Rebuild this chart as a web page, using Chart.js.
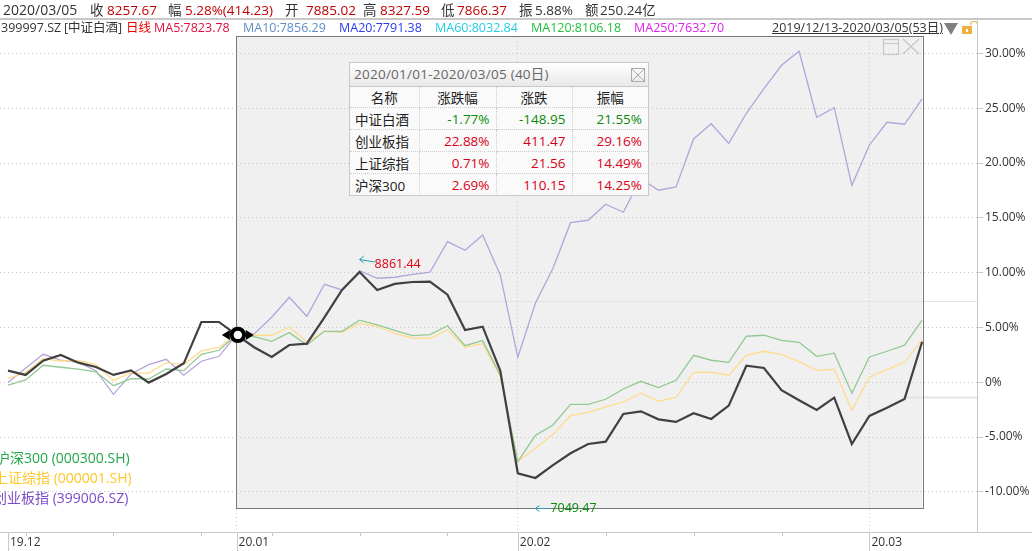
<!DOCTYPE html>
<html>
<head>
<meta charset="utf-8">
<style>
html,body{margin:0;padding:0;background:#fff;overflow:hidden}
#wrap{position:relative;width:1032px;height:551px;overflow:hidden;font-family:"Open Sans","Noto Sans CJK SC",sans-serif;font-size:13.5px}
canvas{position:absolute;left:0;top:0}
.t{position:absolute;white-space:nowrap;line-height:16px}
#panel{position:absolute;left:349px;top:62px;width:300px;height:134px;border:1px solid #c8c8c8;background:#fafafa;box-sizing:border-box}
#panel .head{height:24px;background:linear-gradient(#fff,#e8e8e8);border-bottom:1px solid #c8c8c8;color:#666;line-height:23px;padding-left:4px;box-sizing:border-box;letter-spacing:.25px}
#panel .close{position:absolute;left:281px;top:5px;width:12px;height:12px;border:1px solid #aaa;background:linear-gradient(45deg,transparent 47%,#aaa 47%,#aaa 53%,transparent 53%),linear-gradient(-45deg,transparent 47%,#aaa 47%,#aaa 53%,transparent 53%)}
#panel table{border-collapse:collapse;width:298px;table-layout:fixed}
#panel td{height:22px;padding:0 6px 0 0;border-bottom:1px dotted #ccc;border-right:1px dotted #ccc;text-align:right;box-sizing:border-box;white-space:nowrap}
#panel td:first-child{text-align:left;padding-left:5px;color:#222}
#panel tr:nth-of-type(1) td{text-align:center;color:#222;height:20px;padding:0}
#panel td:last-child{border-right:none}
#panel tr:last-child td{border-bottom:none}
</style>
</head>
<body>
<div id="wrap">
<canvas id="chart" width="1032" height="551"></canvas>
<div id="header"></div>
<div id="panel"><div class="head">2020/01/01-2020/03/05 (40日)<div class="close"></div></div><table id="tbl"><colgroup><col style="width:69px"><col style="width:77px"><col style="width:76px"><col style="width:76px"></colgroup></table></div>
</div>
<script src="https://cdn.jsdelivr.net/npm/chart.js@4"></script>
<script>
// values, % change per trading day (index 0 = 2019/12/13)
var baijiu = [1.06,0.67,1.97,2.49,1.79,1.40,0.67,1.09,-0.03,0.76,1.73,5.50,5.50,4.32,3.20,2.31,3.40,3.52,5.93,8.42,10.06,8.42,8.97,9.15,9.18,7.99,4.77,5.07,1.06,-8.30,-8.73,-7.55,-6.48,-5.63,-5.42,-2.89,-2.65,-3.38,-3.62,-2.83,-3.35,-2.13,1.51,1.30,-0.73,-1.64,-2.53,-1.40,-5.63,-3.07,-2.32,-1.52,3.70];
var hs300 = [-0.27,0.21,1.55,1.37,1.19,0.94,-0.31,0.33,0.30,1.21,1.06,2.55,2.92,4.32,4.16,3.74,4.53,3.40,4.65,4.65,5.66,5.23,4.74,4.25,4.34,5.16,3.34,3.80,0.67,-7.24,-4.84,-3.90,-2.01,-2.01,-1.55,-0.61,0.09,-0.49,0.18,2.46,2.01,1.82,4.20,4.29,3.83,3.65,2.37,2.65,-1.00,2.31,2.83,3.38,5.68];
var shcomp = [0.36,0.88,2.15,1.94,1.97,1.64,0.15,0.88,0.82,1.79,1.61,2.86,3.19,4.32,4.29,4.29,5.02,3.70,4.65,4.56,5.38,5.11,4.47,4.04,4.01,4.77,3.19,3.52,0.51,-7.24,-6.02,-4.75,-3.05,-2.74,-2.25,-1.80,-1.00,-1.73,-1.37,0.91,0.91,0.64,2.46,2.83,2.55,1.88,1.09,1.19,-2.55,0.46,1.15,1.82,3.86];
var chinext = [-0.03,1.28,2.55,2.03,1.82,1.06,-1.10,0.76,1.61,2.10,0.64,1.92,2.37,4.32,4.41,5.93,7.75,6.02,8.94,8.42,10.18,9.49,9.58,9.85,10.04,12.83,12.04,13.44,9.79,2.28,7.21,10.40,14.56,14.78,16.24,15.51,18.60,17.52,17.82,22.20,23.59,21.80,24.54,26.79,28.92,30.20,24.18,25.05,17.97,21.65,23.72,23.54,25.85];
var yTicks = [30,25,20,15,10,5,0,-5,-10];
var monthIdx = [0,13,29,49];
var monthLabels = ['19.12','20.01','20.02','20.03'];
var minorIdx = [1,6,11,15,20,25,34,39,44];
var legendRows = [
 ['沪深300 (000300.SH)',-4,450,'#22a84a'],
 ['上证综指 (000001.SH)',-6,470,'#ffc82c'],
 ['创业板指 (399006.SZ)',-7,490,'#7d4cc8']
];
var headerItems = [
 ['2020/03/05',3,2,'#333',14],['收',90,2,'#333'],['8257.67',107,2,'#c00000'],['幅',168,2,'#333'],['5.28%(414.23)',185,2,'#c00000'],
 ['开',285,2,'#333'],['7885.02',306,2,'#c00000'],['高',363,2,'#333'],['8327.59',380,2,'#c00000'],['低',441,2,'#333'],['7866.37',457,2,'#c00000'],
 ['振',519,2,'#333'],['5.88%',535,2,'#333'],['额',585,2,'#333'],['250.24亿',600,2,'#333'],
 ['399997.SZ',1,20,'#333',12.5],['[中证白酒]',64,20,'#333',12.5],['日线',126,20,'#e00',12.5],['MA5:7823.78',154,20,'#e0103c',12.5],
 ['MA10:7856.29',243,20,'#5b8fc8',12.5],['MA20:7791.38',339,20,'#2a3cf0',12.5],['MA60:8032.84',435,20,'#22cfe6',12.5],['MA120:8106.18',531,20,'#22c040',12.5],['MA250:7632.70',634,20,'#e020f0',12.5]
];
var tableRows = [
 ['名称','涨跌幅','涨跌','振幅'],
 ['中证白酒','-1.77%','-148.95','21.55%'],
 ['创业板指','22.88%','411.47','29.16%'],
 ['上证综指','0.71%','21.56','14.49%'],
 ['沪深300','2.69%','110.15','14.25%']
];
var hiLabel = '8861.44', hiIdx = 20;
var loLabel = '7049.47', loIdx = 30;

var header = document.getElementById('header');
headerItems.concat(legendRows.map(function(r){return [r[0],r[1],r[2],r[3],14];})).forEach(function(h){
  var d = document.createElement('div');
  d.className = 't';
  d.textContent = h[0];
  d.style.left = h[1]+'px'; d.style.top = h[2]+'px'; d.style.color = h[3];
  if(h[4]) d.style.fontSize = h[4]+'px';
  header.appendChild(d);
});
var range = document.createElement('div');
range.className = 't';
range.textContent = '2019/12/13-2020/03/05(53日)';
range.style.cssText = 'left:772px;top:20px;color:#333;font-size:12.5px;text-decoration:underline';
header.appendChild(range);

tableRows.forEach(function(r,i){
  var tr = document.createElement('tr');
  r.forEach(function(c,j){
    var td = document.createElement('td');
    td.textContent = c;
    if(i>0 && j>0) td.style.color = (i==1) ? '#0a8a0a' : '#d80018';
    tr.appendChild(td);
  });
  document.getElementById('tbl').appendChild(tr);
});

function pts(arr){ return arr.map(function(v,i){return {x:i,y:v};}); }

var dressing = {
  id:'dressing',
  beforeDraw:function(c){
    var g = c.ctx, x = c.scales.x, y = c.scales.y;
    var l = x.getPixelForValue(13), r = x.getPixelForValue(52);
    var t = y.getPixelForValue(31.6), b = y.getPixelForValue(-11.47);
    g.save();
    g.fillStyle = '#f0f0f0'; g.fillRect(l,t,r-l,b-t);
    // light range lines
    g.strokeStyle = '#e4e4e4'; g.lineWidth = 1;
    g.beginPath();
    g.moveTo(x.getPixelForValue(24.9),Math.round(y.getPixelForValue(7.42))+.5); g.lineTo(c.chartArea.right,Math.round(y.getPixelForValue(7.42))+.5);
    g.stroke();
    g.lineWidth = 2;
    g.beginPath();
    g.moveTo(x.getPixelForValue(51),y.getPixelForValue(-1.39)); g.lineTo(c.chartArea.right,y.getPixelForValue(-1.39));
    g.stroke();
    g.restore();
  },
  afterDatasetsDraw:function(c){
    var g = c.ctx, x = c.scales.x, y = c.scales.y;
    var l = x.getPixelForValue(13), r = x.getPixelForValue(52);
    var t = y.getPixelForValue(31.6), b = y.getPixelForValue(-11.47);
    g.save();
    g.strokeStyle = '#787878'; g.lineWidth = 1;
    g.strokeRect(Math.round(l)-.5,Math.round(t)+.5,Math.round(r-l)+1,Math.round(b-t));
    // window icons
    g.strokeStyle = '#c8c8c8'; g.lineWidth = 1.2;
    g.strokeRect(883.5,39.5,15,15);
    g.beginPath(); g.moveTo(883,43.5); g.lineTo(899,43.5);
    g.moveTo(903,39); g.lineTo(919,54); g.moveTo(919,39); g.lineTo(903,54); g.stroke();
    // range handle on the first day of the selection
    var px = x.getPixelForValue(13)+1.3, py = y.getPixelForValue(baijiu[13]);
    g.fillStyle = '#000';
    g.beginPath(); g.moveTo(px-16,py); g.lineTo(px-8,py-5); g.lineTo(px-8,py+5); g.fill();
    g.beginPath(); g.moveTo(px+16,py); g.lineTo(px+8,py-5); g.lineTo(px+8,py+5); g.fill();
    g.lineWidth = 4; g.strokeStyle = '#000'; g.fillStyle = '#fff';
    g.beginPath(); g.arc(px,py,6.2,0,Math.PI*2); g.fill(); g.stroke();
    // high and low notes
    g.font = '12.5px "Open Sans"'; g.textBaseline = 'middle'; g.textAlign = 'left';
    var hx = x.getPixelForValue(hiIdx), hy = y.getPixelForValue(baijiu[hiIdx]);
    g.strokeStyle = '#2a9ab8'; g.lineWidth = 1;
    g.beginPath(); g.moveTo(hx+15,hy-10); g.lineTo(hx,hy-12.5); g.moveTo(hx+4,hy-16); g.lineTo(hx,hy-12.5); g.lineTo(hx+4,hy-9); g.stroke();
    g.fillStyle = '#e00010'; g.fillText(hiLabel,hx+15,hy-7.3);
    var lx = x.getPixelForValue(loIdx), ly = 508.5;
    g.beginPath(); g.moveTo(lx,ly); g.lineTo(lx+14,ly); g.moveTo(lx+4,ly-3); g.lineTo(lx,ly); g.lineTo(lx+4,ly+3); g.stroke();
    g.fillStyle = '#0a8a0a'; g.fillText(loLabel,lx+15,ly);
    // top right controls
    g.fillStyle = '#808080';
    g.beginPath(); g.moveTo(944,23); g.lineTo(958,23); g.lineTo(951,35); g.fill();
    g.fillStyle = '#f0b040'; g.fillRect(962,26,10,8);
    g.fillStyle = '#fff'; g.fillRect(966,29,2,3);
    g.strokeStyle = '#f0b040'; g.lineWidth = 1.2;
    g.beginPath(); g.arc(974,25,3.5,Math.PI,0); g.stroke();
    // header rule, right axis line, bottom rule
    g.strokeStyle = '#c8c8c8'; g.lineWidth = 2;
    g.beginPath(); g.moveTo(0,19); g.lineTo(1032,19); g.stroke();
    g.lineWidth = 1;
    g.beginPath(); g.moveTo(977.5,20); g.lineTo(977.5,532); g.moveTo(0,532.5); g.lineTo(1032,532.5); g.stroke();
    // month and week marks under the axis
    monthIdx.forEach(function(i){ var p = Math.round(x.getPixelForValue(i))+.5; g.beginPath(); g.moveTo(p,532); g.lineTo(p,551); g.stroke(); });
    minorIdx.forEach(function(i){ var p = Math.round(x.getPixelForValue(i))+.5; g.beginPath(); g.moveTo(p,532); g.lineTo(p,536); g.stroke(); });
    g.restore();
  }
};

new Chart(document.getElementById('chart').getContext('2d'), {
  type:'line',
  data:{ datasets:[
    {label:'中证白酒',data:pts(baijiu),borderColor:'#404040',borderWidth:2.2,pointRadius:0,tension:0,order:1},
    {label:'沪深300',data:pts(hs300),borderColor:'#93c993',borderWidth:1.3,pointRadius:0,tension:0,order:2},
    {label:'上证综指',data:pts(shcomp),borderColor:'#ffdc8c',borderWidth:1.3,pointRadius:0,tension:0,order:3},
    {label:'创业板指',data:pts(chinext),borderColor:'#b3a4dc',borderWidth:1.3,pointRadius:0,tension:0,order:4}
  ]},
  plugins:[dressing],
  options:{
    responsive:false, animation:false, events:[],
    layout:{padding:{top:37,left:0,right:0,bottom:0}},
    plugins:{legend:{display:false},tooltip:{enabled:false}},
    scales:{
      x:{type:'linear',min:-0.455,max:55.12,
        afterBuildTicks:function(s){ s.ticks = monthIdx.map(function(v){return {value:v};}); },
        afterFit:function(s){ s.height = 19; },
        border:{display:false,dash:[1,3]},
        grid:{color:function(ctx){ return ctx.index===0 ? 'rgba(0,0,0,0)' : '#c8c8c8'; },lineWidth:1,drawTicks:false,tickLength:0},
        ticks:{autoSkip:false,maxRotation:0,align:'start',padding:3,labelOffset:2,color:'#333',font:{family:'"Open Sans"',size:12},
          callback:function(v){ return monthLabels[monthIdx.indexOf(v)]; }}
      },
      y:{position:'right',min:-13.66,max:31.5,
        afterBuildTicks:function(s){ s.ticks = yTicks.map(function(v){return {value:v};}); },
        afterFit:function(s){ s.width = 55; },
        border:{display:false,dash:[1,3]},
        grid:{color:'#c8c8c8',lineWidth:1,tickLength:6,tickBorderDash:[]},
        ticks:{padding:2,color:'#333',font:{family:'"Open Sans"',size:12},
          callback:function(v){ return v===0 ? '0%' : v.toFixed(2)+'%'; }}
      }
    }
  }
});
</script>
</body>
</html>
